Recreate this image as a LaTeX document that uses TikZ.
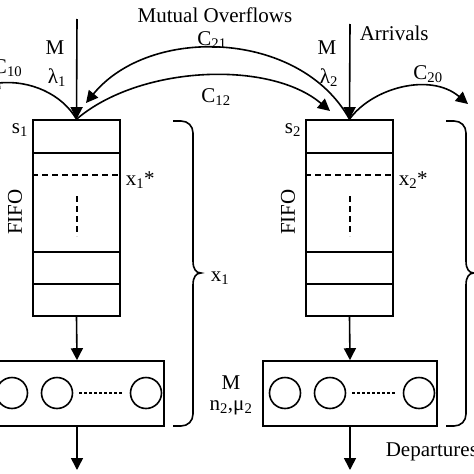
\documentclass[tikz,border=0pt]{standalone}
\usepackage{fontspec}
\setmainfont{Liberation Serif}
\usetikzlibrary{arrows.meta,calc}
\begin{document}
\begin{tikzpicture}[x=1pt,y=-1pt, line width=1.6pt,
  >={Triangle[width=12pt,length=12pt]},
  every node/.style={font=\fontsize{21}{25}\selectfont, inner sep=0pt},
  queue/.style={draw, minimum width=87pt, minimum height=196pt},
  server/.style={draw, minimum width=174pt, minimum height=65pt},
  srv/.style={draw, circle, minimum size=31pt},
  dsh/.style={dash pattern=on 6pt off 4pt},
  dots/.style={dash pattern=on 3pt off 2pt}]
\useasboundingbox (0,0) rectangle (474,474);
\clip (0,0) rectangle (474,474);
\foreach \i/\dx in {1/0,2/273}{
  \begin{scope}[xshift=\dx]
  \node[queue] (q\i) at (76.5,218) {};
  \draw (q\i.west |- 0,153) -- (q\i.east |- 0,153);
  \draw (q\i.west |- 0,252) -- (q\i.east |- 0,252);
  \draw (q\i.west |- 0,284) -- (q\i.east |- 0,284);
  \draw[dsh] (q\i.west |- 0,175) -- (q\i.east |- 0,175);
  \draw[dsh] (77,196) -- (77,236);
  \node[server] (sv\i) at (77,393.5) {};
  \node[srv] (c\i a) at (12,393) {};
  \node[srv] (c\i b) at (57,393) {};
  \node[srv] (c\i c) at (146,393) {};
  \draw[dots] ($(c\i b.east)+(6,0)$) -- ($(c\i c.west)+(-6,0)$);
  \node[rotate=90] (fifo\i) at (15,212) {FIFO};
  \node (s\i) at (20,130) {s\textsubscript{\i}};
  \node[anchor=west] (xs\i) at (125,180) {x\textsubscript{\i}*};
  \draw[->] (q\i.south) -- (sv\i.north);
  \coordinate (out\i) at (77,470);
  \draw[->] (sv\i.south) -- (out\i);
  \draw (173,121) -- (181,121) .. controls (188,121) and (193,126) .. (193,133)
     -- (193,261) .. controls (193,269) and (196,273) .. (201,273)
     .. controls (196,273) and (193,277) .. (193,285)
     -- (193,414) .. controls (193,421) and (188,426) .. (181,426) -- (173,426);
  \end{scope}
}
\node[anchor=west] (xlab) at (210,278) {x\textsubscript{1}};
% top
\coordinate (in1) at (77,19);
\coordinate (in2) at (350,24);
\draw[->] (in1) -- (q1.north);
\draw[->] (in2) -- (q2.north);
\node (M1) at (55,48) {M};
\node (L1) at (57,78) {λ\textsubscript{1}};
\node (M2) at (327,48) {M};
\node (L2) at (329,78) {λ\textsubscript{2}};
\node (mo) at (215,15) {Mutual Overflows};
\node[anchor=west] (arr) at (359,33) {Arrivals};
\coordinate (c10end) at (-12,84);
\draw[->] (q1.north) .. controls (62,94) and (30,80) .. (c10end);
\node[anchor=east] (c10) at (23,68) {C\textsubscript{10}};
\coordinate (c20end) at (468,104);
\draw[->] (q2.north) .. controls (372,88) and (430,72) .. (c20end);
\node (c20) at (428,74) {C\textsubscript{20}};
\coordinate (c21end) at (86,103);
\draw[->] (q2.north) .. controls (300,30) and (150,25) .. (c21end);
\node (c21) at (212,40) {C\textsubscript{21}};
\coordinate (c12end) at (330,111);
\draw[->] (q1.north) .. controls (140,65) and (270,60) .. (c12end);
\node (c12) at (216,97) {C\textsubscript{12}};
\node (m3) at (231,383) {M};
\node (n2) at (231,408) {n\textsubscript{2},μ\textsubscript{2}};
\node[anchor=west] (dep) at (385,452) {Departures};
\end{tikzpicture}
\end{document}
